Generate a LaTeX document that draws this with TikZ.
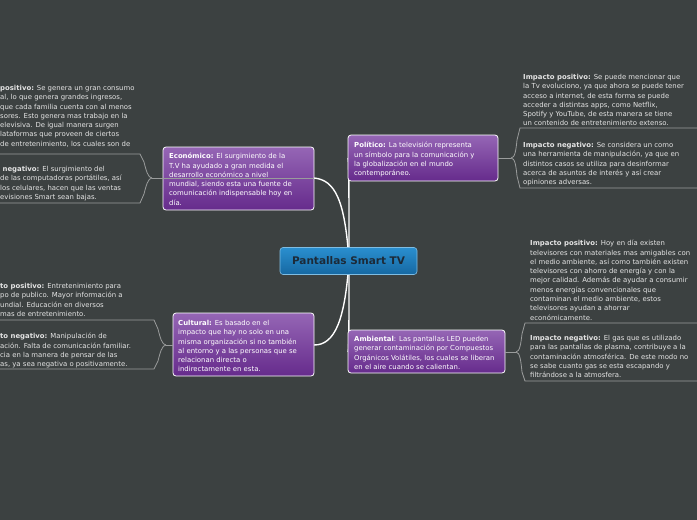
\documentclass[tikz,border=0pt]{standalone}
\usepackage{fontspec}
\setmainfont{DejaVu Sans}
\definecolor{bg}{HTML}{3C4141}
\definecolor{ptop}{HTML}{9566B5}
\definecolor{pbot}{HTML}{662B8C}
\definecolor{btop}{HTML}{2A8FCF}
\definecolor{bbot}{HTML}{1668A2}
\definecolor{leaf}{HTML}{E4E4E4}
\definecolor{lline}{HTML}{9A9C9C}
\definecolor{ctext}{HTML}{1C2A38}
\begin{document}
\begin{tikzpicture}[x=1pt,y=-1pt,
  txt/.style={anchor=north west,inner sep=0,align=left,font=\fontsize{6.9}{9.3}\selectfont},
  leaftxt/.style={txt,text=leaf},
  boxtxt/.style={txt,text=white},
  pbox/.style={draw=white,line width=0.8pt,rounded corners=3pt,top color=ptop,bottom color=pbot},
  conn/.style={draw=white,line width=1.4pt},
  lconn/.style={draw=lline,line width=0.8pt}]
\fill[bg] (0,0) rectangle (697,520);
\useasboundingbox (0,0) rectangle (697,520);
\begin{scope}
\clip (0,0) rectangle (697,520);
% main connectors
\coordinate (c) at (349,261);
\coordinate (e1) at (314,178);
\coordinate (c1) at (314,345);
\coordinate (p1) at (348,158);
\coordinate (a1) at (348,352);
\draw[conn] (c) .. controls (345,200) and (335,180) .. (e1);
\draw[conn] (c) .. controls (345,320) and (335,345) .. (c1);
\draw[conn] (c) .. controls (349,190) and (349,160) .. (p1);
\draw[conn] (c) .. controls (349,330) and (349,352) .. (a1);
% center
\node[draw=btop!60!white,line width=0.6pt,rounded corners=3pt,top color=btop,bottom color=bbot,minimum width=137pt,minimum height=27pt,inner sep=0,font=\fontsize{10.5}{12}\selectfont\bfseries,text=ctext] (ctr) at (348.5,261) {Pantallas Smart TV};
% boxes
\path[pbox] (163,147) rectangle (314,210);
\node[boxtxt] (eco) at (169,153) {\textbf{Económico:} El surgimiento de la\\T.V ha ayudado a gran medida el\\desarrollo económico a nivel\\mundial, siendo esta una fuente de\\comunicación indispensable hoy en\\día.};
\path[pbox] (173,313) rectangle (314,376);
\node[boxtxt] (cul) at (178,320) {\textbf{Cultural:} Es basado en el\\impacto que hay no solo en una\\misma organización si no también\\al entorno y a las personas que se\\relacionan directa o\\indirectamente en esta.};
\path[pbox] (348,135) rectangle (498,181);
\node[boxtxt] (pol) at (354,142) {\textbf{Político:} La televisión representa\\un símbolo para la comunicación y\\la globalización en el mundo\\contemporáneo.};
\path[pbox] (348,330) rectangle (505,373);
\node[boxtxt] (amb) at (354,336) {\textbf{Ambiental}: Las pantallas LED pueden\\generar contaminación por Compuestos\\Orgánicos Volátiles, los cuales se liberan\\en el aire cuando se calientan.};
% Economico leaves
\draw[lconn] (314,178) -- (152,178);
\draw[lconn] (152,178) .. controls (148,178) and (146,170) .. (144,162) -- (140,154) -- (-10,154);
\draw[lconn] (152,178) .. controls (148,178) and (146,186) .. (144,194) -- (140,203) -- (-10,203);
\node[leaftxt] (ep) at (0,85) {\textbf{positivo:} Se genera un gran consumo\\al, lo que genera grandes ingresos,\\que cada familia cuenta con al menos\\sores. Esto genera mas trabajo en la\\elevisiva. De igual manera surgen\\lataformas que proveen de ciertos\\de entretenimiento, los cuales son de};
\node[leaftxt] (en) at (0,166) {\textbf{ negativo:} El surgimiento del\\ de las computadoras portátiles, así\\los celulares, hacen que las ventas\\evisiones Smart sean bajas.};
% Cultural leaves
\draw[lconn] (173,345) -- (166,345);
\draw[lconn] (166,345) .. controls (162,345) and (160,337) .. (158,329) -- (154,320) -- (-10,320);
\draw[lconn] (166,345) .. controls (162,345) and (160,353) .. (158,361) -- (154,369) -- (-10,369);
\node[leaftxt] (cp) at (0,283) {\textbf{to positivo:} Entretenimiento para\\po de publico. Mayor información a\\undial. Educación en diversos\\mas de entretenimiento.};
\node[leaftxt] (cn) at (0,333) {\textbf{to negativo:} Manipulación de\\ación. Falta de comunicación familiar.\\cia en la manera de pensar de las\\as, ya sea negativa o positivamente.};
% Politico leaves
\draw[lconn] (498,158) -- (511,158);
\draw[lconn] (511,158) .. controls (515,158) and (516,150) .. (517,140) -- (520,128) -- (710,128);
\draw[lconn] (511,158) .. controls (515,158) and (516,166) .. (517,176) -- (520,188) -- (710,188);
\node[leaftxt] (pp) at (523,74) {\textbf{Impacto positivo:} Se puede mencionar que\\la Tv evoluciono, ya que ahora se puede tener\\acceso a internet, de esta forma se puede\\acceder a distintas apps, como Netflix,\\Spotify y YouTube, de esta manera se tiene\\un contenido de entretenimiento extenso.};
\node[leaftxt] (pn) at (523,142) {\textbf{Impacto negativo:} Se considera un como\\una herramienta de manipulación, ya que en\\distintos casos se utiliza para desinformar\\acerca de asuntos de interés y así crear\\opiniones adversas.};
% Ambiental leaves
\draw[lconn] (505,352) -- (516,352);
\draw[lconn] (516,352) .. controls (520,352) and (521,342) .. (522,334) -- (525,323) -- (710,323);
\draw[lconn] (516,352) .. controls (520,352) and (521,362) .. (522,372) -- (525,381) -- (710,381);
\node[leaftxt] (ap) at (530,240) {\textbf{Impacto positivo:} Hoy en día existen\\televisores con materiales mas amigables con\\el medio ambiente, así como también existen\\televisores con ahorro de energía y con la\\mejor calidad. Además de ayudar a consumir\\menos energías convencionales que\\contaminan el medio ambiente, estos\\televisores ayudan a ahorrar\\económicamente.};
\node[leaftxt] (an) at (530,335) {\textbf{Impacto negativo:} El gas que es utilizado\\para las pantallas de plasma, contribuye a la\\contaminación atmosférica. De este modo no\\se sabe cuanto gas se esta escapando y\\filtrándose a la atmosfera.};
\end{scope}
\end{tikzpicture}
\end{document}
